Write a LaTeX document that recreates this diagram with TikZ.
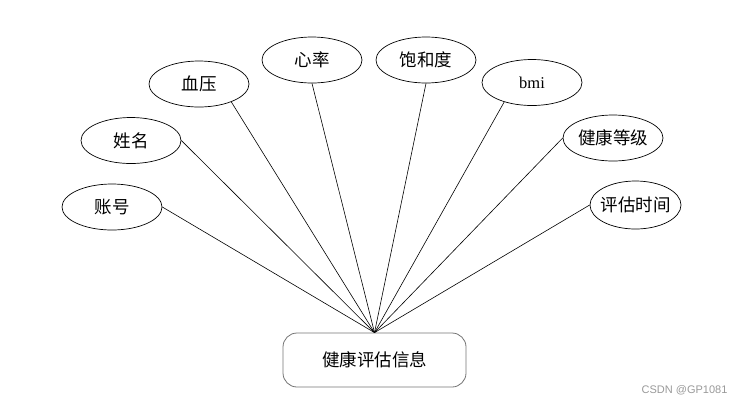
\documentclass[tikz,border=0pt]{standalone}
\usepackage{fontspec}
\setmainfont{Liberation Serif}
\setsansfont{Liberation Sans}
\newfontfamily\cjk{Noto Sans CJK SC}
\usetikzlibrary{shapes.geometric}

\begin{document}
\begin{tikzpicture}[
    x=1pt, y=-1pt,
    attr/.style={
        ellipse,
        draw,
        line width=0.7pt,
        inner sep=0pt,
        minimum width=100pt,
        minimum height=46pt,
        font=\cjk\fontsize{17.5}{20}\selectfont
    },
    entity/.style={
        rectangle,
        rounded corners=14pt,
        draw=black!55,
        line width=0.8pt,
        minimum width=183pt,
        minimum height=54pt,
        font=\cjk\fontsize{17.5}{20}\selectfont
    },
    link/.style={
        line width=0.6pt
    }
]

\useasboundingbox (0,0) rectangle (743,405);

% ------------------------------------------------------------------
% ENTITY
% ------------------------------------------------------------------

\node[entity] (record) at (374.5,360) {健康评估信息};

% ------------------------------------------------------------------
% ATTRIBUTES
% ------------------------------------------------------------------

\node[attr] (account) at (112,207) {账号};
\node[attr] (name) at (131,140.5) {姓名};
\node[attr] (pressure) at (199,84) {血压};
\node[attr] (heartrate) at (312,60) {心率};
\node[attr] (saturation) at (426,60) {饱和度};
\node[attr, font=\rmfamily\fontsize{16.5}{18}\selectfont] (bmi) at (532,82.5) {bmi};
\node[attr, inner xsep=-3pt] (level) at (613,138) {健康等级};
\node[attr, inner xsep=-5pt, minimum width=91pt, minimum height=48pt] (evaltime) at (635.5,205) {评估时间};

% ------------------------------------------------------------------
% CONNECTIONS
% ------------------------------------------------------------------

\draw[link] (account.east) -- (record.north);
\draw[link] (name.east) -- (record.north);
\draw[link] (pressure.-29) -- (record.north);
\draw[link] (heartrate.south) -- (record.north);
\draw[link] (saturation.south) -- (record.north);
\draw[link] (bmi.215) -- (record.north);
\draw[link] (level.west) -- (record.north);
\draw[link] (evaltime.west) -- (record.north);

% watermark
\node[font=\sffamily\fontsize{11}{13}\selectfont, text=black!40] (mark) at (684.5,390) {CSDN @GP1081};

\end{tikzpicture}
\end{document}
